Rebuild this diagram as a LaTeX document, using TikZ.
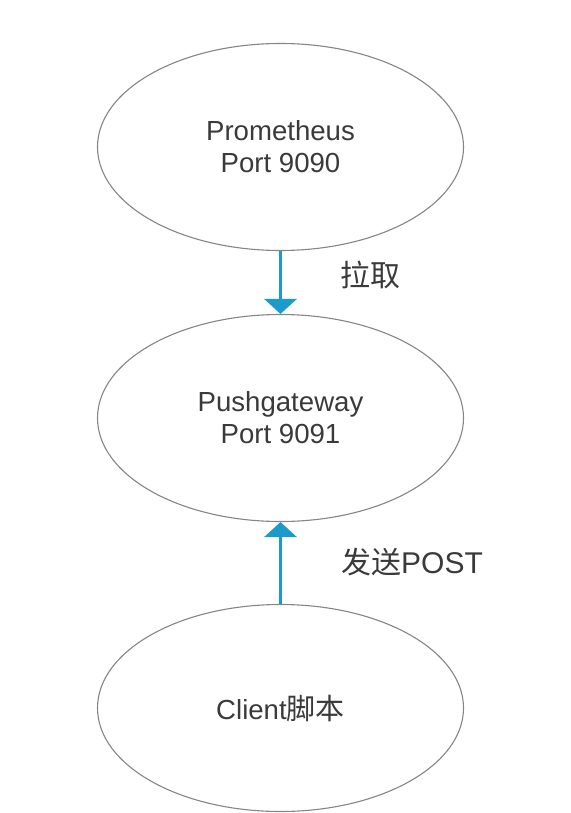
\documentclass[tikz,border=0pt]{standalone}
\usepackage{fontspec}
\setmainfont{Liberation Sans}
\newfontfamily\cjk{Noto Sans CJK SC}
\usetikzlibrary{shapes.geometric,arrows.meta}
\definecolor{txt}{HTML}{3A3A3A}
\definecolor{edge}{HTML}{858585}
\definecolor{arr}{HTML}{1A9BCB}
\tikzset{
  oval/.style={ellipse, draw=edge, line width=1.1pt, minimum width=366pt, minimum height=207pt, inner sep=0pt, text=txt, font=\fontsize{27.6}{32}\selectfont, align=center},
  flow/.style={draw=arr, line width=3.5pt, -{Triangle[width=32pt,length=15pt]}},
  lbl/.style={text=txt, font=\fontsize{30}{34}\selectfont, inner sep=0pt}
}
\begin{document}
\begin{tikzpicture}[x=1pt,y=-1pt]
\useasboundingbox (0,0) rectangle (570,813);
\node[oval] (prom) at (280.5,147) {Prometheus\\Port 9090};
\node[oval] (push) at (280.5,418) {Pushgateway\\Port 9091};
\node[oval] (client) at (280.5,708) {Client{\cjk\fontsize{29}{32}\selectfont 脚本}};
\draw[flow] (prom.south) -- (push.north);
\draw[flow] (client.north) -- (push.south);
\node[lbl, anchor=west] (l1) at (340,275) {\cjk 拉取};
\node[lbl, anchor=west] (l2) at (341,562) {{\cjk 发送}POST};
\end{tikzpicture}
\end{document}
